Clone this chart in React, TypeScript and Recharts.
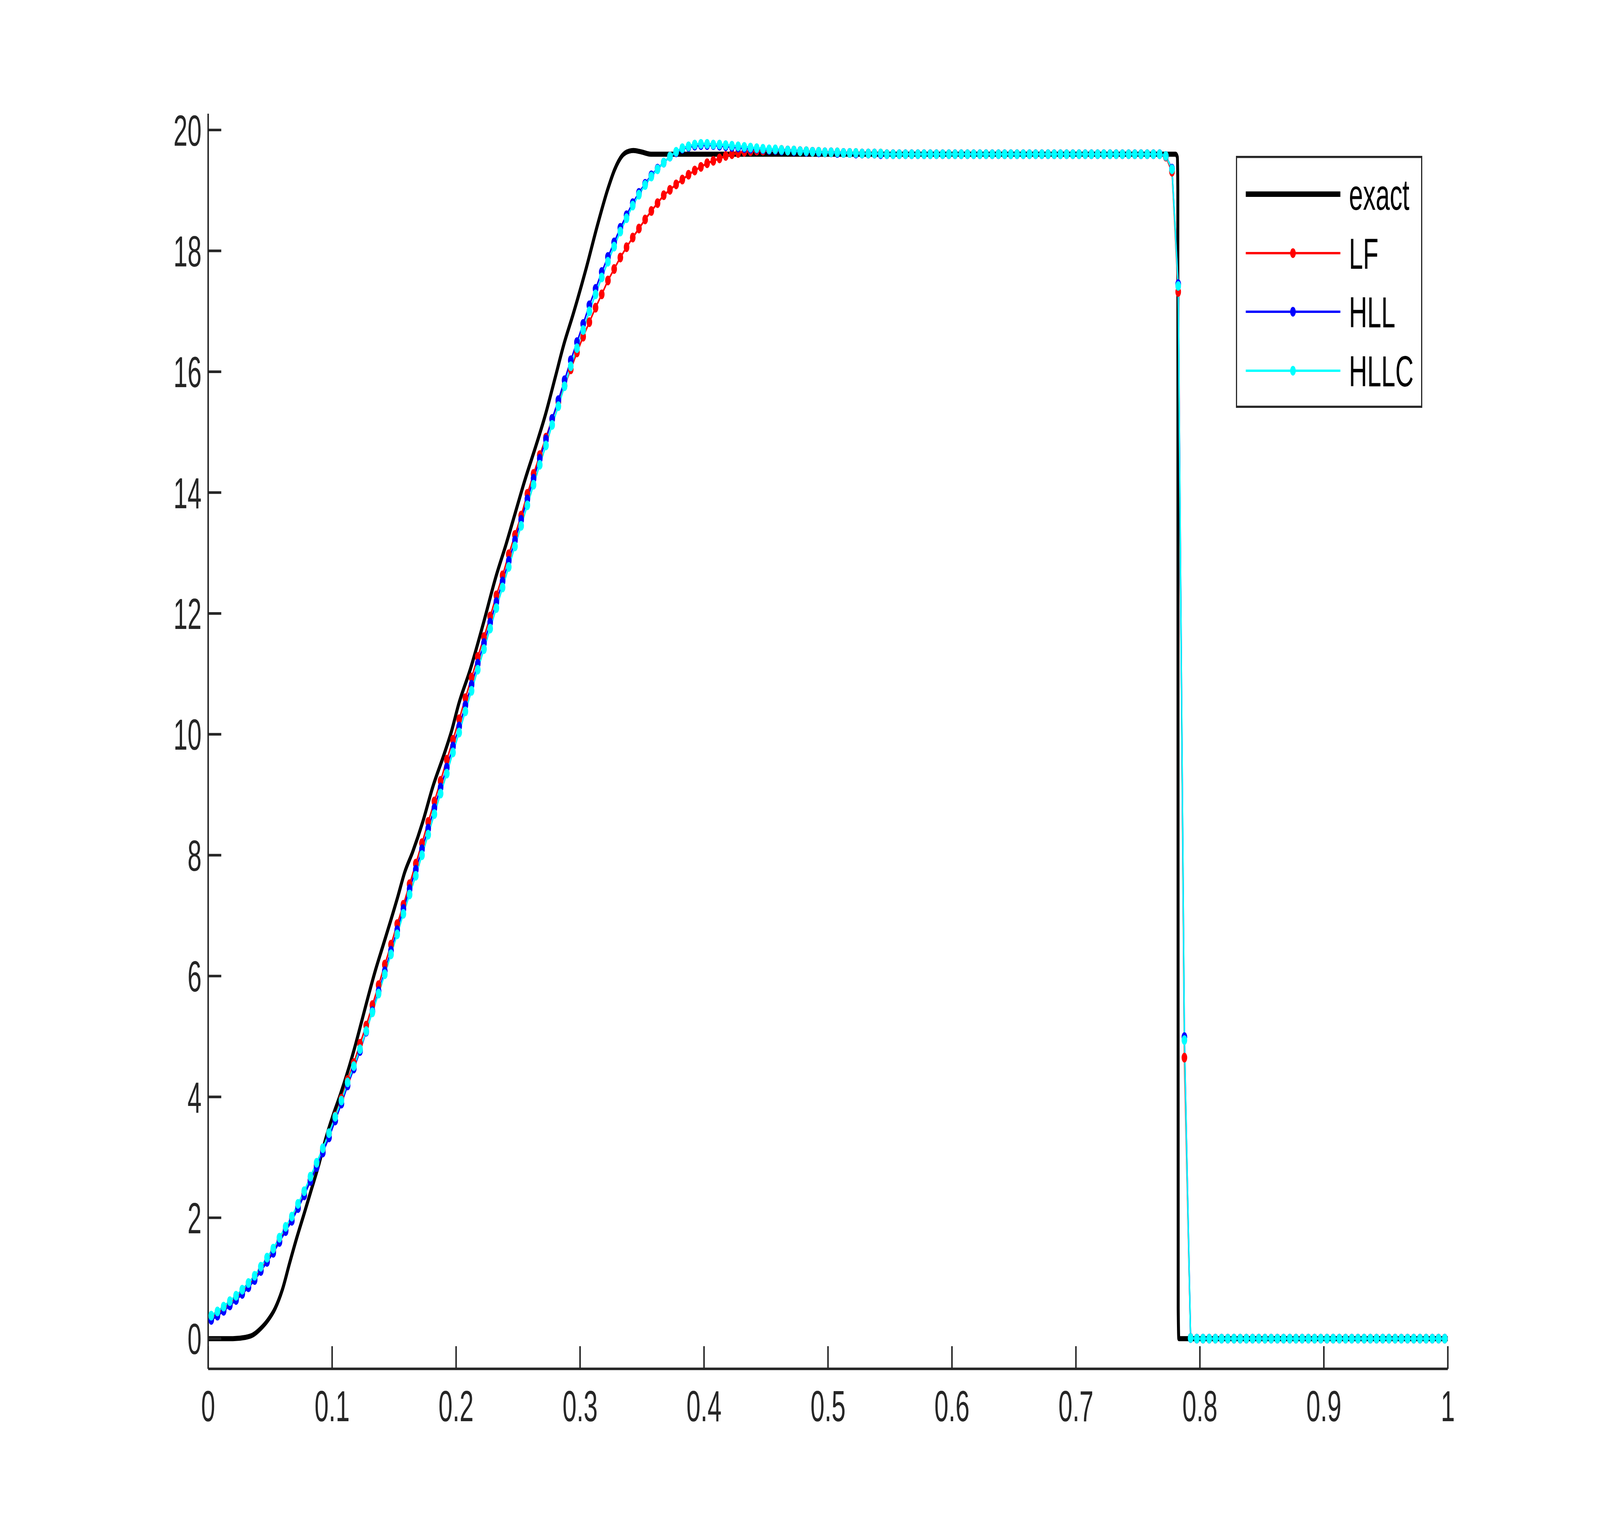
import React from 'react';
import { LineChart, Line, XAxis, YAxis, Legend } from 'recharts';

// ---------- data ----------
// 200 cell centres of the numerical grid on [0, 1]
const cellCenters: number[] = Array.from({ length: 200 }, (_, i) => Number((0.0025 + 0.005 * i).toFixed(4)));

const lfValues: number[] = [
  0.35, 0.42, 0.50, 0.58, 0.67, 0.77, 0.88, 1.00, 1.14, 1.29,
  1.45, 1.62, 1.80, 1.99, 2.19, 2.40, 2.63, 2.87, 3.12, 3.39,
  3.68, 3.97, 4.28, 4.56, 4.88, 5.18, 5.52, 5.85, 6.19, 6.52,
  6.86, 7.18, 7.52, 7.86, 8.20, 8.55, 8.89, 9.23, 9.58, 9.91,
  10.25, 10.60, 10.94, 11.28, 11.61, 11.95, 12.30, 12.63, 12.98, 13.30,
  13.62, 13.98, 14.31, 14.62, 14.91, 15.22, 15.50, 15.77, 16.04, 16.32,
  16.58, 16.82, 17.06, 17.28, 17.51, 17.70, 17.89, 18.06, 18.22, 18.37,
  18.52, 18.66, 18.79, 18.92, 19.01, 19.10, 19.18, 19.26, 19.33, 19.39,
  19.45, 19.49, 19.53, 19.57, 19.60, 19.62, 19.64, 19.65, 19.66, 19.66,
  19.67, 19.67, 19.67, 19.66, 19.66, 19.65, 19.65, 19.64, 19.64, 19.63,
  19.63, 19.63, 19.62, 19.62, 19.62, 19.61, 19.61, 19.61, 19.61, 19.60,
  19.60, 19.60, 19.60, 19.60, 19.60, 19.60, 19.60, 19.60, 19.60, 19.60,
  19.60, 19.60, 19.60, 19.60, 19.60, 19.60, 19.60, 19.60, 19.60, 19.60,
  19.60, 19.60, 19.60, 19.60, 19.60, 19.60, 19.60, 19.60, 19.60, 19.60,
  19.60, 19.60, 19.60, 19.60, 19.60, 19.60, 19.60, 19.60, 19.60, 19.60,
  19.60, 19.60, 19.60, 19.60, 19.56, 19.31, 17.32, 4.65, 0.01, 0,
  0, 0, 0, 0, 0, 0, 0, 0, 0, 0,
  0, 0, 0, 0, 0, 0, 0, 0, 0, 0,
  0, 0, 0, 0, 0, 0, 0, 0, 0, 0,
  0, 0, 0, 0, 0, 0, 0, 0, 0, 0,
];

const hllValues: number[] = [
  0.31, 0.38, 0.46, 0.55, 0.64, 0.74, 0.85, 0.97, 1.12, 1.27,
  1.42, 1.60, 1.78, 1.95, 2.16, 2.37, 2.61, 2.84, 3.08, 3.33,
  3.61, 3.89, 4.19, 4.47, 4.76, 5.08, 5.42, 5.75, 6.08, 6.42,
  6.76, 7.11, 7.44, 7.76, 8.10, 8.44, 8.78, 9.12, 9.45, 9.80,
  10.13, 10.48, 10.82, 11.17, 11.51, 11.85, 12.19, 12.53, 12.87, 13.21,
  13.55, 13.89, 14.23, 14.56, 14.88, 15.22, 15.53, 15.86, 16.19, 16.49,
  16.79, 17.10, 17.37, 17.65, 17.90, 18.14, 18.38, 18.59, 18.79, 18.96,
  19.11, 19.25, 19.36, 19.46, 19.56, 19.63, 19.69, 19.72, 19.74, 19.75,
  19.75, 19.75, 19.74, 19.73, 19.72, 19.71, 19.70, 19.69, 19.69, 19.68,
  19.67, 19.67, 19.66, 19.66, 19.65, 19.65, 19.64, 19.64, 19.63, 19.63,
  19.63, 19.62, 19.62, 19.62, 19.61, 19.61, 19.61, 19.61, 19.60, 19.60,
  19.60, 19.60, 19.60, 19.60, 19.60, 19.60, 19.60, 19.60, 19.60, 19.60,
  19.60, 19.60, 19.60, 19.60, 19.60, 19.60, 19.60, 19.60, 19.60, 19.60,
  19.60, 19.60, 19.60, 19.60, 19.60, 19.60, 19.60, 19.60, 19.60, 19.60,
  19.60, 19.60, 19.60, 19.60, 19.60, 19.60, 19.60, 19.60, 19.60, 19.60,
  19.60, 19.60, 19.60, 19.60, 19.57, 19.36, 17.45, 4.99, 0.01, 0,
  0, 0, 0, 0, 0, 0, 0, 0, 0, 0,
  0, 0, 0, 0, 0, 0, 0, 0, 0, 0,
  0, 0, 0, 0, 0, 0, 0, 0, 0, 0,
  0, 0, 0, 0, 0, 0, 0, 0, 0, 0,
];

const hllcValues: number[] = [
  0.38, 0.45, 0.53, 0.62, 0.71, 0.81, 0.92, 1.04, 1.19, 1.34,
  1.49, 1.67, 1.85, 2.02, 2.23, 2.44, 2.68, 2.91, 3.15, 3.40,
  3.67, 3.94, 4.24, 4.51, 4.79, 5.09, 5.40, 5.71, 6.03, 6.36,
  6.69, 7.03, 7.35, 7.66, 8.00, 8.34, 8.68, 9.02, 9.35, 9.70,
  10.03, 10.38, 10.72, 11.07, 11.41, 11.75, 12.09, 12.43, 12.77, 13.11,
  13.45, 13.79, 14.13, 14.46, 14.78, 15.12, 15.43, 15.76, 16.09, 16.39,
  16.69, 17.00, 17.28, 17.56, 17.82, 18.07, 18.32, 18.54, 18.75, 18.93,
  19.09, 19.23, 19.35, 19.46, 19.56, 19.64, 19.70, 19.73, 19.76, 19.77,
  19.77, 19.76, 19.76, 19.75, 19.74, 19.73, 19.72, 19.71, 19.70, 19.69,
  19.68, 19.68, 19.67, 19.66, 19.66, 19.65, 19.65, 19.64, 19.64, 19.63,
  19.63, 19.63, 19.62, 19.62, 19.62, 19.61, 19.61, 19.61, 19.61, 19.60,
  19.60, 19.60, 19.60, 19.60, 19.60, 19.60, 19.60, 19.60, 19.60, 19.60,
  19.60, 19.60, 19.60, 19.60, 19.60, 19.60, 19.60, 19.60, 19.60, 19.60,
  19.60, 19.60, 19.60, 19.60, 19.60, 19.60, 19.60, 19.60, 19.60, 19.60,
  19.60, 19.60, 19.60, 19.60, 19.60, 19.60, 19.60, 19.60, 19.60, 19.60,
  19.60, 19.60, 19.60, 19.60, 19.57, 19.35, 17.42, 4.94, 0.01, 0,
  0, 0, 0, 0, 0, 0, 0, 0, 0, 0,
  0, 0, 0, 0, 0, 0, 0, 0, 0, 0,
  0, 0, 0, 0, 0, 0, 0, 0, 0, 0,
  0, 0, 0, 0, 0, 0, 0, 0, 0, 0,
];

const exactX: number[] = [
  0, 0.02, 0.03, 0.036, 0.0425, 0.048, 0.054, 0.06, 0.0657, 0.0715,
  0.0773, 0.083, 0.089, 0.0947, 0.1005, 0.106, 0.112, 0.118, 0.1237, 0.1296,
  0.135, 0.141, 0.147, 0.1528, 0.1586, 0.1649, 0.1731, 0.1812, 0.1905, 0.1963,
  0.2021, 0.2114, 0.2218, 0.2323, 0.2404, 0.2474, 0.2554, 0.2648, 0.2718, 0.2799,
  0.2869, 0.2944, 0.3048, 0.3141, 0.3222, 0.328, 0.3338, 0.3396, 0.3431, 0.349,
  0.3571, 0.3687, 0.5, 0.7, 0.7805, 0.7818, 0.7822, 0.7825, 0.783, 1,
];
const exactY: number[] = [
  0, 0, 0.02, 0.06, 0.17, 0.3, 0.5, 0.82, 1.25, 1.67,
  2.06, 2.45, 2.86, 3.3, 3.68, 4.0, 4.38, 4.8, 5.24, 5.7,
  6.1, 6.5, 6.9, 7.3, 7.72, 8.05, 8.55, 9.13, 9.68, 10.05,
  10.5, 11.07, 11.82, 12.62, 13.15, 13.64, 14.2, 14.8, 15.27, 15.9,
  16.45, 16.95, 17.7, 18.43, 19.01, 19.35, 19.57, 19.65, 19.66, 19.64,
  19.6, 19.6, 19.6, 19.6, 19.6, 19.55, 19.0, 0.5, 0, 0,
];

const xTicks: number[] = [0, 0.1, 0.2, 0.3, 0.4, 0.5, 0.6, 0.7, 0.8, 0.9, 1];
const yTicks: number[] = [0, 2, 4, 6, 8, 10, 12, 14, 16, 18, 20];

const seriesNames: string[] = ['exact', 'LF', 'HLL', 'HLLC'];
const seriesColors: string[] = ['#000000', '#ff0000', '#0000ff', '#00ffff'];

const schemeData = cellCenters.map((x, i) => ({
  x,
  LF: lfValues[i],
  HLL: hllValues[i],
  HLLC: hllcValues[i],
}));
const exactData = exactX.map((x, i) => ({ x, exact: exactY[i] }));

// ---------- styling ----------
const W = 7087;
const H = 3937;
const FONT = '"Liberation Sans", Arial, Helvetica, sans-serif';
const FONT_SIZE = 112;
const AXIS_COLOR = '#262626';
const AXIS_W = 6.7;
const TICK_LEN = 58;

const YTick = (props: any) => {
  const { x, y, payload } = props;
  return (
    <g>
      <line x1={x + 29} x2={x + 29 + TICK_LEN} y1={y} y2={y} stroke={AXIS_COLOR} strokeWidth={AXIS_W} />
      <text x={x} y={y} dy="0.355em" textAnchor="end" fill={AXIS_COLOR} fontFamily={FONT} fontSize={FONT_SIZE}>
        {String(payload.value)}
      </text>
    </g>
  );
};

const XTick = (props: any) => {
  const { x, y, payload } = props;
  return (
    <g>
      <line x1={x} x2={x} y1={y - 54} y2={y - 54 - TICK_LEN} stroke={AXIS_COLOR} strokeWidth={AXIS_W} />
      <text x={x} y={y} dy="0.71em" textAnchor="middle" fill={AXIS_COLOR} fontFamily={FONT} fontSize={FONT_SIZE}>
        {String(payload.value)}
      </text>
    </g>
  );
};

const LegendBox = () => {
  const rowY = [98, 249, 399, 550];
  return (
    <svg width={826} height={645} style={{ display: 'block' }}>
      <rect x={2.75} y={2.75} width={820.5} height={639.5} fill="#ffffff" stroke={AXIS_COLOR} strokeWidth={5.5} />
      {seriesNames.map((name, i) => (
        <g key={name}>
          <line x1={44} x2={463} y1={rowY[i]} y2={rowY[i]} stroke={seriesColors[i]} strokeWidth={i === 0 ? 14 : 6} />
          {i > 0 && <circle cx={253} cy={rowY[i]} r={12.5} fill={seriesColors[i]} />}
          <text x={501} y={rowY[i]} dy="0.355em" fill="#000000" fontFamily={FONT} fontSize={FONT_SIZE}>
            {name}
          </text>
        </g>
      ))}
    </svg>
  );
};

// The browser window may be narrower than the requested 7087 px; stretch the
// 7087x3937 drawing so that it fills whatever viewport is actually available.
function viewportScale(): [number, number] {
  if (typeof window === 'undefined') return [1, 1];
  const vw = document.documentElement.clientWidth || window.innerWidth || W;
  const vh = document.documentElement.clientHeight || window.innerHeight || H;
  const sx = vw > 0 ? vw / W : 1;
  const sy = vh > 0 ? vh / H : 1;
  return [sx, sy];
}

export default function App() {
  const [sx, sy] = viewportScale();
  return (
    <div
      style={{
        position: 'absolute',
        left: 0,
        top: 0,
        width: W * sx,
        height: H * sy,
        overflow: 'hidden',
        background: '#ffffff',
      }}
    >
      <div style={{ width: W, height: H, transform: `scale(${sx}, ${sy})`, transformOrigin: '0 0' }}>
        <LineChart
          width={W}
          height={H}
          data={schemeData}
          margin={{ top: 291, right: 674, bottom: 0, left: 0 }}
        >
          <XAxis
            dataKey="x"
            type="number"
            domain={[0, 1]}
            ticks={xTicks}
            allowDataOverflow
            height={433}
            tickSize={0}
            tickMargin={54}
            tickLine={false}
            axisLine={{ stroke: AXIS_COLOR, strokeWidth: AXIS_W }}
            tick={<XTick />}
            interval={0}
          />
          <YAxis
            type="number"
            domain={[-0.5, 20.27]}
            ticks={yTicks}
            allowDataOverflow
            width={922}
            tickSize={0}
            tickMargin={29}
            tickLine={false}
            axisLine={{ stroke: AXIS_COLOR, strokeWidth: AXIS_W }}
            tick={<YTick />}
            interval={0}
          />
          <Line
            data={exactData}
            dataKey="exact"
            name={seriesNames[0]}
            type="monotone"
            stroke={seriesColors[0]}
            strokeWidth={13}
            strokeLinejoin="round"
            dot={false}
            activeDot={false}
            isAnimationActive={false}
          />
          <Line
            dataKey="LF"
            name={seriesNames[1]}
            type="linear"
            stroke={seriesColors[1]}
            strokeWidth={6}
            dot={{ r: 12.5, fill: seriesColors[1], stroke: 'none' }}
            activeDot={false}
            isAnimationActive={false}
          />
          <Line
            dataKey="HLL"
            name={seriesNames[2]}
            type="linear"
            stroke={seriesColors[2]}
            strokeWidth={6}
            dot={{ r: 12.5, fill: seriesColors[2], stroke: 'none' }}
            activeDot={false}
            isAnimationActive={false}
          />
          <Line
            dataKey="HLLC"
            name={seriesNames[3]}
            type="linear"
            stroke={seriesColors[3]}
            strokeWidth={6}
            dot={{ r: 12.5, fill: seriesColors[3], stroke: 'none' }}
            activeDot={false}
            isAnimationActive={false}
          />
          <Legend
            layout="vertical"
            align="center"
            verticalAlign="middle"
            content={<LegendBox />}
            wrapperStyle={{ left: 5474, top: 399, width: 826, height: 645 }}
          />
        </LineChart>
      </div>
    </div>
  );
}
